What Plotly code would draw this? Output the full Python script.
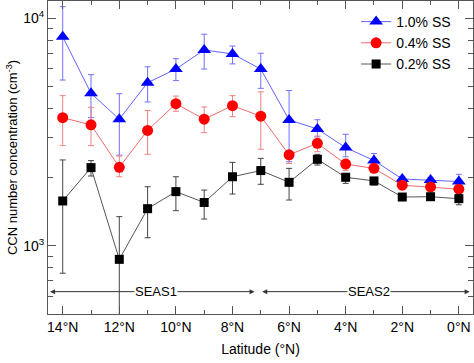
import numpy as np
import plotly.graph_objects as go

lat = [14, 13, 12, 11, 10, 9, 8, 7, 6, 5, 4, 3, 2, 1, 0]

ss10_val = [8300, 4680, 3600, 5210, 5980, 7260, 6970, 5980, 3575, 3260, 2700, 2370, 1965, 1946, 1915]
ss10_hi = [11250, 5650, 4660, 6120, 6640, 8510, 7550, 7020, 4810, 3580, 3090, 2545, 2010, 1990, 2060]
ss10_lo = [5350, 3655, 2500, 4285, 5320, 5980, 6300, 4920, 2340, 3010, 2460, 2220, 1920, 1905, 1850]

ss04_val = [3655, 3400, 2212, 3214, 4210, 3600, 4130, 3710, 2510, 2820, 2285, 2188, 1845, 1813, 1772]
ss04_hi = [4570, 4060, 2480, 3930, 4550, 4075, 4570, 4750, 2590, 3035, 2400, 2260, 1900, 1860, 1830]
ss04_lo = [2755, 2755, 2010, 2523, 3900, 3140, 3690, 2655, 2300, 2590, 2140, 2120, 1800, 1770, 1720]

ss02_val = [1573, 2205, 871, 1455, 1729, 1549, 2010, 2140, 1900, 2398, 1999, 1927, 1637, 1642, 1610]
ss02_hi = [2383, 2367, 1342, 1817, 2010, 1757, 2326, 2422, 2188, 2522, 2080, 1990, 1670, 1675, 1683]
ss02_lo = [757, 2025, 450, 1084, 1426, 1310, 1687, 1862, 1588, 2264, 1880, 1849, 1610, 1615, 1513]

x_tickvals = [14, 12, 10, 8, 6, 4, 2, 0]
x_ticktext = ["14°N", "12°N", "10°N", "8°N", "6°N", "4°N", "2°N", "0°N"]
y_tickvals = [1000, 10000]
y_ticktext = ["10<sup>3</sup>", "10<sup>4</sup>"]
y_minor = [600, 700, 800, 900, 2000, 3000, 4000, 5000, 6000, 7000, 8000, 9000]

series = [
    ("1.0% SS", ss10_val, ss10_hi, ss10_lo, "#0000ff", "#6262ff", "#7070ff", "triangle-up", 12),
    ("0.4% SS", ss04_val, ss04_hi, ss04_lo, "#ff0000", "#f06a6a", "#f08080", "circle", 11),
    ("0.2% SS", ss02_val, ss02_hi, ss02_lo, "#000000", "#555555", "#444444", "square", 9),
]

FONT = "Liberation Sans"
fig = go.Figure()
for name, v, hi, lo, mc, lc, ec, sym, ms in series:
    v = np.array(v, float)
    fig.add_trace(go.Scatter(
        x=lat, y=v, name=name, mode="lines+markers",
        line=dict(color=lc, width=1),
        marker=dict(color=mc, symbol=sym, size=ms, line=dict(width=0)),
        error_y=dict(type="data", symmetric=False,
                     array=np.array(hi) - v, arrayminus=v - np.array(lo),
                     color=ec, thickness=1, width=3),
    ))

axcol = "#555555"
fig.update_layout(
    width=474, height=363,
    margin=dict(l=48, r=1, t=1, b=49),
    paper_bgcolor="white", plot_bgcolor="white",
    font=dict(family=FONT, size=14, color="black"),
    showlegend=True,
    legend=dict(x=0.725, y=0.984, xanchor="left", yanchor="top",
                bgcolor="rgba(0,0,0,0)", font=dict(size=14, family=FONT),
                tracegroupgap=0),
    xaxis=dict(range=[14.52, -0.5], tickvals=x_tickvals, ticktext=x_ticktext,
               ticks="inside", ticklen=8, tickcolor=axcol, showline=True,
               linecolor=axcol, linewidth=1, mirror="ticks", showgrid=False,
               zeroline=False, automargin=False, tickfont=dict(size=14),
               minor=dict(dtick=1, tick0=0, ticks="inside", ticklen=4,
                          tickcolor=axcol, showgrid=False),
               title=dict(text="Latitude (°N)", font=dict(size=14), standoff=10)),
    yaxis=dict(type="log", range=[2.6997, 4.076], tickvals=y_tickvals,
               ticktext=y_ticktext, ticks="inside", ticklen=8, tickcolor=axcol,
               showline=True, linecolor=axcol, linewidth=1, mirror="ticks",
               showgrid=False, zeroline=False, automargin=False,
               tickfont=dict(size=14),
               minor=dict(tickvals=y_minor, ticks="inside", ticklen=5,
                          tickcolor=axcol, showgrid=False),
               title=dict(text="CCN number concentration (cm<sup>-3</sup>)",
                          font=dict(size=13), standoff=2)),
)

ya = np.log10(628)
fig.add_annotation(x=7.22, y=ya, ax=14.5, ay=ya, xref="x", yref="y", axref="x", ayref="y",
                   text="", showarrow=True, arrowside="end+start", arrowhead=2,
                   startarrowhead=2, arrowsize=1, startarrowsize=1, arrowwidth=1,
                   arrowcolor="#333333", standoff=0, startstandoff=0)
fig.add_annotation(x=-0.38, y=ya, ax=7.0, ay=ya, xref="x", yref="y", axref="x", ayref="y",
                   text="", showarrow=True, arrowside="end+start", arrowhead=2,
                   startarrowhead=2, arrowsize=1, startarrowsize=1, arrowwidth=1,
                   arrowcolor="#333333", standoff=0, startstandoff=0)
fig.add_annotation(x=10.72, y=ya, xref="x", yref="y", text="SEAS1", showarrow=False,
                   bgcolor="white", font=dict(size=13), borderpad=0)
fig.add_annotation(x=3.19, y=ya, xref="x", yref="y", text="SEAS2", showarrow=False,
                   bgcolor="white", font=dict(size=13), borderpad=0)

fig.write_html("out.html", config={"displayModeBar": False},
               post_script="document.body.style.margin='0px';")
